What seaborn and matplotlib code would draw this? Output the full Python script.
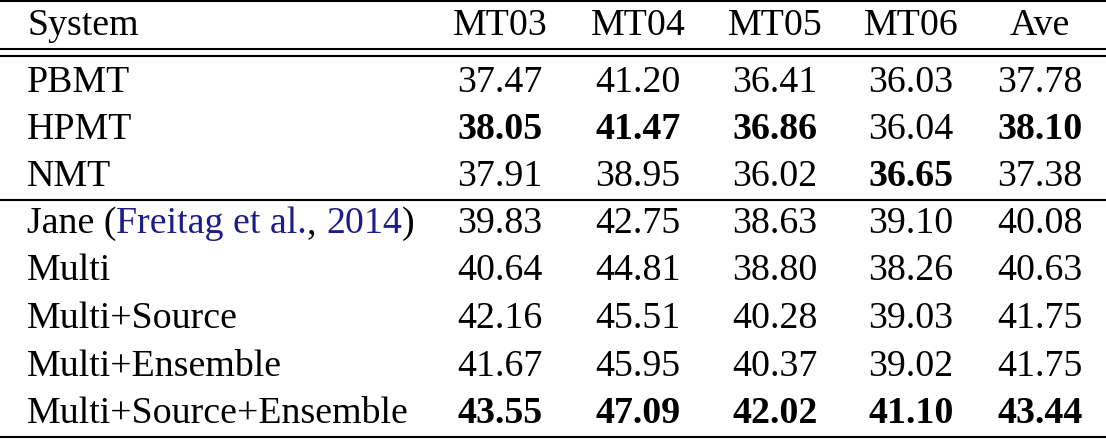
import numpy as np
import pandas as pd
import matplotlib
matplotlib.use("Agg")
import matplotlib.pyplot as plt
import seaborn as sns

# table contents
columns = ["MT03", "MT04", "MT05", "MT06", "Ave"]
systems = ["PBMT", "HPMT", "NMT", "Jane", "Multi", "Multi+Source",
           "Multi+Ensemble", "Multi+Source+Ensemble"]
mt03 = [37.47, 38.05, 37.91, 39.83, 40.64, 42.16, 41.67, 43.55]
mt04 = [41.20, 41.47, 38.95, 42.75, 44.81, 45.51, 45.95, 47.09]
mt05 = [36.41, 36.86, 36.02, 38.63, 38.80, 40.28, 40.37, 42.02]
mt06 = [36.03, 36.04, 36.65, 39.10, 38.26, 39.03, 39.02, 41.10]
ave = [37.78, 38.10, 37.38, 40.08, 40.63, 41.75, 41.75, 43.44]
# which cells are bold (best within each block)
bold = {("HPMT", "MT03"), ("HPMT", "MT04"), ("HPMT", "MT05"), ("NMT", "MT06"),
        ("HPMT", "Ave")} | {("Multi+Source+Ensemble", c) for c in columns}

df = pd.DataFrame({"MT03": mt03, "MT04": mt04, "MT05": mt05,
                   "MT06": mt06, "Ave": ave}, index=systems)

sns.set_theme(style="white")
plt.rcParams["font.family"] = ["Liberation Serif", "DejaVu Serif"]
plt.rcParams["text.color"] = "black"
FS = 27.3
LINK = "#1c1c8a"

fig = plt.figure(figsize=(11.06, 4.4), dpi=100)
ax = fig.add_axes([0, 0, 1, 1])
ax.set_xlim(0, 1106)
ax.set_ylim(440, 0)
ax.axis("off")

col_x = [500, 638, 775, 911, 1040]
name_x = 27
header_y = 35
row_y = [92, 139, 186, 233, 280.5, 328, 375.5, 423]

# rules
for y in [1.5, 49.5, 56.5, 200.5, 437]:
    ax.axhline(y, color="black", lw=1.5)

ax.text(name_x, header_y, "System", fontsize=FS, va="baseline", ha="left")
for x, c in zip(col_x, columns):
    ax.text(x, header_y, c, fontsize=FS, va="baseline", ha="center")

fig.canvas.draw()
renderer = fig.canvas.get_renderer()
inv = ax.transData.inverted()

for y, s in zip(row_y, systems):
    if s == "Jane":
        x = name_x
        for piece, color in [("Jane (", "black"), ("Freitag et al.", LINK),
                             (", ", "black"), ("2014", LINK), (")", "black")]:
            t = ax.text(x, y, piece, fontsize=FS, va="baseline", ha="left",
                        color=color)
            bb = t.get_window_extent(renderer)
            x = inv.transform((bb.x1, bb.y0))[0]
    else:
        ax.text(name_x, y, s, fontsize=FS, va="baseline", ha="left")
    for x, c in zip(col_x, columns):
        w = "bold" if (s, c) in bold else "normal"
        ax.text(x, y, f"{df.loc[s, c]:.2f}", fontsize=FS, va="baseline",
                ha="center", fontweight=w)

fig.savefig("out.png", dpi=100)
